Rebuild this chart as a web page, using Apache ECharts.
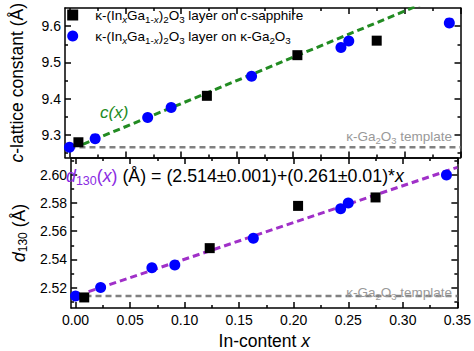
<!DOCTYPE html>
<html><head><meta charset="utf-8">
<script src="https://cdn.jsdelivr.net/npm/echarts@6/dist/echarts.min.js"></script>
<style>html,body{margin:0;padding:0;background:#fff}#c{width:474px;height:351px}</style>
</head><body><div id="c"></div>
<script>
const FONT = '"Liberation Sans", Arial, Helvetica, sans-serif';

// ---- data ----
const xSapphire = [0.008, 0.123, 0.204, 0.275];
const cSapphire = [9.280, 9.408, 9.520, 9.560];
const dSapphire = [2.513, 2.548, 2.578, 2.584];

const xGa2O3 = [0.000, 0.023, 0.070, 0.091, 0.163, 0.243, 0.250, 0.340];
const cGa2O3 = [9.266, 9.290, 9.348, 9.376, 9.462, 9.541, 9.559, 9.609];
const dGa2O3 = [2.514, 2.520, 2.534, 2.536, 2.555, 2.576, 2.580, 2.600];

const cTemplate = 9.266;
const dTemplate = 2.514;
const cFit = [9.259, 1.275];
const dFit = [2.514, 0.261];
const fitRange = [0.012, 0.35];

const xTicks = [0, 0.05, 0.10, 0.15, 0.20, 0.25, 0.30, 0.35];
const xMinorTicks = [0.025, 0.075, 0.125, 0.175, 0.225, 0.275, 0.325];
const cTicks = [9.3, 9.4, 9.5, 9.6];
const cMinorTicks = [9.25, 9.35, 9.45, 9.55];
const dTicks = [2.52, 2.54, 2.56, 2.58, 2.60];
const dMinorTicks = [2.51, 2.53, 2.55, 2.57, 2.59, 2.61];

const xRange = [-0.004, 0.35];
const cRange = [9.238, 9.65];
const dRange = [2.5055, 2.612];

const legendNames = ['sapphire', 'ga2o3'];
// ---------------

const BLACK = '#000';
const GREEN = '#228B22';
const PURPLE_T = '#8B2BE2';
const PURPLE_L = '#A030C8';
const GRAY = '#808080';
const BLUE = '#0000FF';

function tickAxis(common, pos, values, len, extra) {
  const a = Object.assign({
    type: 'value', position: pos, splitLine: {show: false},
    axisLine: {show: false, onZero: false},
    axisLabel: {show: false},
    axisTick: {show: true, inside: true, length: len, customValues: values, lineStyle: {color: BLACK, width: 1.5}}
  }, common);
  return Object.assign(a, extra || {});
}
const lineOn = {show: true, onZero: false, lineStyle: {color: BLACK, width: 1.5}};
const labelStyle = {fontSize: 14, color: BLACK, fontFamily: FONT};

function xAxesFor(g, withLabels) {
  const common = {gridIndex: g, min: xRange[0], max: xRange[1]};
  const main = withLabels ? {
    axisLine: lineOn,
    axisLabel: Object.assign({show: true, customValues: xTicks, margin: 5, formatter: v => v.toFixed(2)}, labelStyle),
    name: 'In-content {i|x}', nameLocation: 'middle', nameGap: 24,
    nameTextStyle: {fontSize: 17.5, fontFamily: FONT, color: BLACK,
      rich: {i: {fontSize: 17.5, fontFamily: FONT, fontStyle: 'italic', color: BLACK}}}
  } : {axisLine: lineOn};
  return [
    tickAxis(common, 'bottom', xTicks, 6, main),
    tickAxis(common, 'top', xTicks, 6, {axisLine: lineOn}),
    tickAxis(common, 'bottom', xMinorTicks, 3),
    tickAxis(common, 'top', xMinorTicks, 3)
  ];
}
function yAxesFor(g, range, ticks, minor, dec, name, rich) {
  const common = {gridIndex: g, min: range[0], max: range[1]};
  const main = {
    axisLine: lineOn,
    axisLabel: Object.assign({show: true, customValues: ticks, margin: 4, formatter: v => v.toFixed(dec)}, labelStyle),
    name: name, nameLocation: 'middle', nameGap: 39, nameRotate: 90,
    nameTextStyle: {fontSize: 17.5, fontFamily: FONT, color: BLACK, rich: rich}
  };
  return [
    tickAxis(common, 'left', ticks, 6, main),
    tickAxis(common, 'right', ticks, 6, {axisLine: lineOn}),
    tickAxis(common, 'left', minor, 3),
    tickAxis(common, 'right', minor, 3)
  ];
}

function pts(xs, ys) { return xs.map((x, i) => [x, ys[i]]); }
function fitLine(f) { return fitRange.map(x => [x, f[0] + f[1] * x]); }

const subTxt = {fontSize: 9.8, fontFamily: FONT, lineHeight: 19, padding: [8, 0, 0, 0]};
const legendRich = {
  sub: Object.assign({color: BLACK}, subTxt),
  si: Object.assign({color: BLACK, fontStyle: 'italic'}, subTxt),
  g: {width: 12, fontSize: 13.5, lineHeight: 19}
};
const tmplStyle = {
  text: '\u03ba-Ga{s|2}O{s|3} template', verticalAlign: 'middle', align: 'right',
  fontSize: 13.5, fontFamily: FONT, fill: '#999', lineHeight: 18,
  rich: {s: {fontSize: 9.5, fontFamily: FONT, fill: '#999', lineHeight: 18, padding: [8, 0, 0, 0]}}
};

const chart = echarts.init(document.getElementById('c'), null, {renderer: 'svg'});
const option = {
  animation: false,
  backgroundColor: '#fff',
  grid: [
    {left: 57.5, right: 13.5, top: 2, height: 155.5},
    {left: 57.5, right: 13.5, top: 158, height: 158.7}
  ],
  xAxis: [].concat(xAxesFor(0, false), xAxesFor(1, true)),
  yAxis: [].concat(
    yAxesFor(0, cRange, cTicks, cMinorTicks, 1, '{i|c}-lattice constant (Å)', {
      i: {fontSize: 17.5, fontFamily: FONT, fontStyle: 'italic', color: BLACK}
    }),
    yAxesFor(1, dRange, dTicks, dMinorTicks, 2, '{i|d}{s|130} (Å)', {
      i: {fontSize: 17.5, fontFamily: FONT, fontStyle: 'italic', color: BLACK, lineHeight: 20},
      s: {fontSize: 12, fontFamily: FONT, color: BLACK, lineHeight: 20, padding: [9, 0, 0, 0]}
    })
  ),
  legend: {
    orient: 'vertical', left: 67.2, top: 5.5, padding: 0, itemGap: 2,
    itemWidth: 11, itemHeight: 11,
    data: [{name: legendNames[0], icon: 'rect'}, {name: legendNames[1], icon: 'circle'}],
    formatter: n => n === legendNames[0]
      ? '{g|}\u03ba-(In{si|x}Ga{sub|1-}{si|x}){sub|2}O{sub|3} layer on c-sapphire'
      : '{g|}\u03ba-(In{si|x}Ga{sub|1-}{si|x}){sub|2}O{sub|3} layer on \u03ba-Ga{sub|2}O{sub|3}',
    textStyle: {fontSize: 13.5, fontFamily: FONT, color: BLACK, lineHeight: 19, rich: legendRich}
  },
  graphic: [
    {type: 'text', x: 100, y: 112, z: 10, style: {
      text: '{i|c}{p|(}{i|x}{p|)}', verticalAlign: 'middle', align: 'left',
      rich: {
        i: {fontSize: 17, fontFamily: FONT, fontStyle: 'italic', fill: GREEN},
        p: {fontSize: 17, fontFamily: FONT, fontStyle: 'italic', fill: GREEN}
      }}},
    {type: 'text', x: 452, y: 136, z: 10, style: tmplStyle},
    {type: 'text', x: 452, y: 292.5, z: 10, style: tmplStyle},
    {type: 'text', x: 66, y: 176, z: 10, style: {
      text: '{pi|d}{ps|130}{p|(}{pi|x}{p|)} (Å) = (2.514±0.001)+(0.261±0.01)*{i|x}',
      verticalAlign: 'middle', align: 'left',
      fontSize: 17.8, fontFamily: FONT, fill: BLACK, lineHeight: 22,
      rich: {
        pi: {fontSize: 17.8, fontFamily: FONT, fontStyle: 'italic', fill: PURPLE_T, lineHeight: 22},
        p: {fontSize: 17.8, fontFamily: FONT, fill: PURPLE_T, lineHeight: 22},
        ps: {fontSize: 12.5, fontFamily: FONT, fill: PURPLE_T, lineHeight: 22, padding: [9, 0, 0, 0]},
        i: {fontSize: 17.8, fontFamily: FONT, fontStyle: 'italic', fill: BLACK, lineHeight: 22}
      }}}
  ],
  series: [
    {type: 'line', xAxisIndex: 0, yAxisIndex: 0, data: [[0, cTemplate], [xRange[1], cTemplate]],
      symbol: 'none', silent: true, z: 1, lineStyle: {color: GRAY, width: 2.5, type: [6, 4]}},
    {type: 'line', xAxisIndex: 4, yAxisIndex: 4, data: [[0, dTemplate], [xRange[1], dTemplate]],
      symbol: 'none', silent: true, z: 1, lineStyle: {color: GRAY, width: 2.5, type: [6, 4]}},
    {type: 'line', xAxisIndex: 0, yAxisIndex: 0, data: fitLine(cFit), clip: true,
      symbol: 'none', silent: true, z: 2, lineStyle: {color: GREEN, width: 3, type: [7, 4]}},
    {type: 'line', xAxisIndex: 4, yAxisIndex: 4, data: fitLine(dFit), clip: true,
      symbol: 'none', silent: true, z: 2, lineStyle: {color: PURPLE_L, width: 3, type: [7, 4]}},
    {name: legendNames[1], type: 'scatter', xAxisIndex: 0, yAxisIndex: 0, data: pts(xGa2O3, cGa2O3),
      symbol: 'circle', symbolSize: 11, z: 3, itemStyle: {color: BLUE, opacity: 1}},
    {name: legendNames[0], type: 'scatter', xAxisIndex: 0, yAxisIndex: 0, data: pts(xSapphire, cSapphire),
      symbol: 'rect', symbolSize: 10, z: 4, itemStyle: {color: BLACK, opacity: 1}},
    {name: legendNames[1], type: 'scatter', xAxisIndex: 4, yAxisIndex: 4, data: pts(xGa2O3, dGa2O3),
      symbol: 'circle', symbolSize: 11, z: 3, itemStyle: {color: BLUE, opacity: 1}},
    {name: legendNames[0], type: 'scatter', xAxisIndex: 4, yAxisIndex: 4, data: pts(xSapphire, dSapphire),
      symbol: 'rect', symbolSize: 10, z: 4, itemStyle: {color: BLACK, opacity: 1}}
  ]
};
chart.setOption(option);
</script></body></html>
